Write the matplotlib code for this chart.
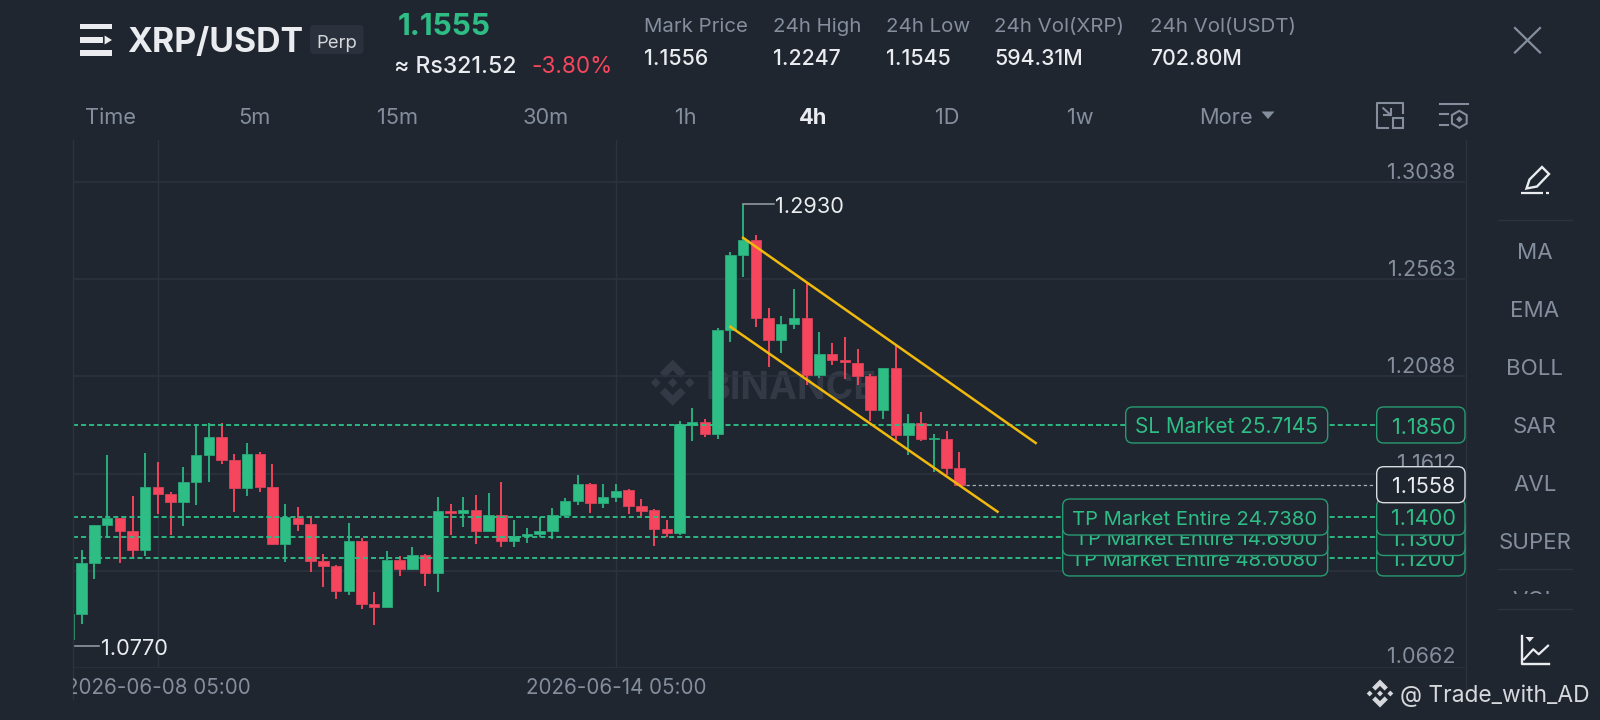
import matplotlib
matplotlib.use("Agg")
import matplotlib.pyplot as plt
from matplotlib.patches import FancyBboxPatch, Polygon, Rectangle, RegularPolygon
from matplotlib.transforms import Bbox, TransformedBbox

plt.rcParams['font.family'] = ['Inter', 'DejaVu Sans']
plt.rcParams['lines.scale_dashes'] = False

# candles, 4h, index 6 = 2026-06-08 05:00, index 42 = 2026-06-14 05:00
FIRST_INDEX = -1
OPENS = [1.0804, 1.0928, 1.1177, 1.1363, 1.1395, 1.1334, 1.1241, 1.1549, 1.1513, 1.1472,
         1.1573, 1.1703, 1.1793, 1.1677, 1.1542, 1.1707, 1.1549, 1.1270, 1.1395, 1.1368,
         1.1187, 1.1161, 1.1039, 1.1281, 1.0973, 1.0962, 1.1190, 1.1146, 1.1215, 1.1127,
         1.1428, 1.1421, 1.1436, 1.1330, 1.1408, 1.1281, 1.1307, 1.1319, 1.1330, 1.1408,
         1.1479, 1.1560, 1.1469, 1.1500, 1.1531, 1.1456, 1.1433, 1.1342, 1.1324, 1.1850,
         1.1863, 1.1808, 1.2314, 1.2679, 1.2753, 1.2373, 1.2267, 1.2345, 1.2373, 1.2094,
         1.2197, 1.2166, 1.2155, 1.2090, 1.1925, 1.2127, 1.1801, 1.1858, 1.1782, 1.1782,
         1.1640]
HIGHS = [1.0926, 1.1239, 1.1363, 1.1705, 1.1395, 1.1503, 1.1711, 1.1671, 1.1521, 1.1646,
         1.1850, 1.1861, 1.1858, 1.1707, 1.1764, 1.1720, 1.1658, 1.1465, 1.1451, 1.1405,
         1.1218, 1.1164, 1.1369, 1.1296, 1.1032, 1.1236, 1.1210, 1.1255, 1.1218, 1.1496,
         1.1462, 1.1496, 1.1506, 1.1516, 1.1571, 1.1386, 1.1345, 1.1402, 1.1443, 1.1492,
         1.1606, 1.1565, 1.1562, 1.1562, 1.1537, 1.1488, 1.1439, 1.1386, 1.1871, 1.1932,
         1.1879, 1.2324, 1.2696, 1.2930, 1.2777, 1.2420, 1.2381, 1.2515, 1.2546, 1.2303,
         1.2252, 1.2278, 1.2221, 1.2099, 1.2130, 1.2241, 1.1905, 1.1915, 1.1808, 1.1819,
         1.1720]
LOWS = [1.0770, 1.0877, 1.1096, 1.1296, 1.1177, 1.1203, 1.1210, 1.1415, 1.1312, 1.1356,
        1.1457, 1.1573, 1.1658, 1.1426, 1.1503, 1.1521, 1.1263, 1.1182, 1.1334, 1.1133,
        1.1060, 1.1001, 1.1017, 1.0951, 1.0874, 1.0957, 1.1112, 1.1140, 1.1063, 1.1034,
        1.1314, 1.1353, 1.1270, 1.1330, 1.1254, 1.1255, 1.1275, 1.1301, 1.1291, 1.1399,
        1.1461, 1.1421, 1.1443, 1.1475, 1.1417, 1.1405, 1.1260, 1.1304, 1.1311, 1.1773,
        1.1793, 1.1783, 1.2256, 1.2575, 1.2327, 1.2135, 1.2200, 1.2321, 1.2046, 1.2081,
        1.2145, 1.2077, 1.2046, 1.1870, 1.1879, 1.1777, 1.1705, 1.1773, 1.1622, 1.1606,
        1.1558]
CLOSES = [1.0926, 1.1177, 1.1363, 1.1394, 1.1334, 1.1241, 1.1549, 1.1513, 1.1474, 1.1571,
          1.1703, 1.1793, 1.1677, 1.1542, 1.1707, 1.1547, 1.1270, 1.1402, 1.1368, 1.1187,
          1.1162, 1.1039, 1.1281, 1.0975, 1.0962, 1.1192, 1.1146, 1.1215, 1.1127, 1.1428,
          1.1420, 1.1436, 1.1330, 1.1408, 1.1281, 1.1307, 1.1317, 1.1330, 1.1408, 1.1477,
          1.1560, 1.1469, 1.1498, 1.1529, 1.1456, 1.1431, 1.1343, 1.1324, 1.1853, 1.1863,
          1.1808, 1.2314, 1.2679, 1.2753, 1.2375, 1.2267, 1.2345, 1.2373, 1.2094, 1.2197,
          1.2166, 1.2158, 1.2090, 1.1925, 1.2127, 1.1801, 1.1858, 1.1782, 1.1788, 1.1642,
          1.1558]

PRICE_TICKS = [1.3038, 1.2563, 1.2088, 1.1612, 1.1137, 1.0662]
DATE_TICKS = [6, 42]
DATE_LABELS = ["2026-06-08 05:00", "2026-06-14 05:00"]

SL_LABEL = "SL Market 25.7145"
SL_PRICE = 1.1850
TP_LABELS = ["TP Market Entire 48.6080", "TP Market Entire 14.6900", "TP Market Entire 24.7380"]
TP_PRICES = [1.1200, 1.1300, 1.1400]
LAST_PRICE = 1.1558

PEAK = (52, 1.2930)
TROUGH = (-1, 1.0770)
CHANNEL_UPPER = ([52, 75], [1.2765, 1.1762])
CHANNEL_LOWER = ([51, 72], [1.2330, 1.1426])

STAT_NAMES = ["Mark Price", "24h High", "24h Low", "24h Vol(XRP)", "24h Vol(USDT)"]
STAT_VALUES = ["1.1556", "1.2247", "1.1545", "594.31M", "702.80M"]
INTERVALS = ["Time", "5m", "15m", "30m", "1h", "4h", "1D", "1w", "More"]
INDICATORS = ["MA", "EMA", "BOLL", "SAR", "AVL", "SUPER"]

BG = '#1f2630'
GREEN = '#2ebd85'
RED = '#f6465d'
GRAY = '#848e9c'
WHITE = '#eaecef'
GRID = '#2d333e'
YELLOW = '#f0b90b'
BOX_GREEN = '#279a70'

fig = plt.figure(figsize=(16, 7.2), dpi=100, facecolor=BG)

# chart area in pixels: x 72.5-1465, y 140-668
ax = fig.add_axes([72.5 / 1600, 1 - 668 / 720, (1465 - 72.5) / 1600, (668 - 140) / 720])
ax.set_facecolor(BG)
ax.set_xlim(-0.72, 108.75)
ax.set_ylim(1.0662, 1.3243)
for s in ax.spines.values():
    s.set_visible(False)
ax.set_xticks([])
ax.set_yticks([])

# overlay in pixel coords for the app chrome
ui = fig.add_axes([0, 0, 1, 1], zorder=5)
ui.set_xlim(0, 1600)
ui.set_ylim(720, 0)
ui.axis('off')
ui.patch.set_alpha(0)


def label(x, y, s, px=20, color=WHITE, ha='left', weight='normal', z=10, **kw):
    # y is the middle of the capitals
    return ui.text(x, y + 0.36 * px, s, fontsize=px * 0.72, color=color, ha=ha, va='baseline',
                   fontweight=weight, zorder=z, **kw)


def price_y(p):
    return 720 - ax.transData.transform((0, p))[1]


def box(x0, x1, yc, edge=BOX_GREEN, lw=1.0, z=8, h=36):
    ui.add_patch(FancyBboxPatch((x0 + 6, yc - h / 2 + 6), x1 - x0 - 12, h - 12,
                                boxstyle="round,pad=6,rounding_size=7", fc=BG, ec=edge, lw=lw, zorder=z))


def binance_logo(target, cx, cy, r, color, z=1):
    d = 0.21 * r
    for dx, dy in [(0, 0), (-0.74 * r, 0), (0.74 * r, 0)]:
        target.add_patch(Polygon([(cx + dx, cy + dy - d), (cx + dx + d, cy + dy), (cx + dx, cy + dy + d),
                                  (cx + dx - d, cy + dy)], fc=color, ec='none', zorder=z,
                                 transform=ui.transData))
    for sgn in (-1, 1):
        pts = [(0, r), (0.56 * r, 0.44 * r), (0.33 * r, 0.21 * r), (0, 0.54 * r),
               (-0.33 * r, 0.21 * r), (-0.56 * r, 0.44 * r)]
        target.add_patch(Polygon([(cx + a, cy + sgn * b) for a, b in pts], fc=color, ec='none', zorder=z,
                                 transform=ui.transData))


# watermark under the candles
binance_logo(ax, 672.7, 382.7, 23, '#333a45', z=0.5)
ax.text(706, 399, "BINANCE", fontsize=27, fontweight='bold', color='#333a45', va='baseline', zorder=0.5,
        transform=ui.transData)

# grid
for p in PRICE_TICKS:
    ax.axhline(p, color=GRID, lw=1.2, zorder=1)
for t in DATE_TICKS:
    ax.axvline(t, color=GRID, lw=1.0, zorder=1)

# candles
for i in range(len(OPENS)):
    idx = FIRST_INDEX + i
    up = CLOSES[i] >= OPENS[i]
    col = GREEN if up else RED
    ax.plot([idx, idx], [LOWS[i], HIGHS[i]], color='#2aa87a' if up else '#ea4359', lw=1.45,
            solid_capstyle='butt', zorder=3)
    ax.bar(idx, abs(CLOSES[i] - OPENS[i]), bottom=min(OPENS[i], CLOSES[i]), width=0.82, color=col,
           edgecolor='#2aa87a' if up else '#d9425a', lw=0.6, zorder=3.2)

# order lines
for p in [SL_PRICE] + TP_PRICES:
    ax.plot([0, 0.936], [p, p], transform=ax.get_yaxis_transform(), color=GREEN, lw=1.35,
            ls=(0, (3.6, 2.2)), zorder=4)
ax.plot([FIRST_INDEX + len(OPENS) - 0.5, FIRST_INDEX + len(OPENS) + 31.6], [LAST_PRICE, LAST_PRICE],
        color='#a9aeb6', lw=0.9, ls=(0, (2.4, 2.0)), zorder=4)

# channel
ax.plot(CHANNEL_UPPER[0], CHANNEL_UPPER[1], color=YELLOW, lw=1.8, zorder=5)
ax.plot(CHANNEL_LOWER[0], CHANNEL_LOWER[1], color=YELLOW, lw=1.8, zorder=5)

# high / low markers
ax.plot([PEAK[0], PEAK[0] + 2.4], [PEAK[1], PEAK[1]], color='#9aa0a8', lw=1.1, zorder=5)
ax.plot([TROUGH[0], TROUGH[0] + 2.35], [TROUGH[1], TROUGH[1]], color='#9aa0a8', lw=1.1, zorder=5)
ax.annotate("1.2930", PEAK, xytext=(32, -3), textcoords='offset pixels', fontsize=15.7, color=WHITE,
            va='center', zorder=6)
ax.annotate("1.0770", TROUGH, xytext=(32, -3), textcoords='offset pixels', fontsize=15.7, color=WHITE,
            va='center', zorder=6, annotation_clip=False)

# axis frame lines
ui.plot([72.5, 72.5], [140, 699], color=GRID, lw=1.0, zorder=1)
ui.plot([1465.5, 1465.5], [140, 699], color=GRID, lw=1.0, zorder=1)

# price labels
for p in PRICE_TICKS:
    label(1455.5, min(price_y(p) - 11, 655), "%.4f" % p, px=21.6, color=GRAY, ha='right', z=2)

# date labels
for t, s in zip(DATE_TICKS, DATE_LABELS):
    x = ax.transData.transform((t, 0))[0]
    txt = label(x, 687, s, px=20.6, color=GRAY, ha='center', z=2)
    txt.set_clip_box(TransformedBbox(Bbox([[73, 0], [1600, 720]]), ui.transData))
    txt.set_clip_on(True)

# order boxes, lower ones first so the upper ones sit on top
for i, (p, s) in enumerate(zip(TP_PRICES, TP_LABELS)):
    y = price_y(p)
    box(1062.7, 1327.7, y, z=6 + i * 0.1)
    label(1317.5, y + 0.5, s, px=20.2, color=GREEN, ha='right', z=6.05 + i * 0.1)
    box(1376.7, 1465, y, z=6 + i * 0.1)
    label(1455.5, y + 0.5, "%.4f" % p, px=21.6, color=GREEN, ha='right', z=6.05 + i * 0.1)
y = price_y(SL_PRICE)
box(1125.7, 1327.7, y)
label(1317.5, y + 0.8, SL_LABEL, px=20.7, color=GREEN, ha='right')
box(1376.7, 1465, y)
label(1455.5, y + 0.8, "%.4f" % SL_PRICE, px=21.6, color=GREEN, ha='right')
y = price_y(LAST_PRICE)
box(1376.7, 1465, y, edge='#d9dce0', lw=1.0, z=7)
label(1455.5, y + 0.5, "%.4f" % LAST_PRICE, px=21.6, color=WHITE, ha='right', z=7.1)

# header: menu icon and symbol
ui.add_patch(Rectangle((80, 24), 32, 5.3, fc=WHITE, ec='none'))
ui.add_patch(Rectangle((80, 37), 23, 6.3, fc=WHITE, ec='none'))
ui.add_patch(Polygon([(104.6, 35.5), (112, 40), (104.6, 44.5)], fc=WHITE, ec='none'))
ui.add_patch(Rectangle((80, 50), 32, 6, fc=WHITE, ec='none'))
label(127.5, 40, "XRP/USDT", px=33.8, weight='bold')
ui.add_patch(FancyBboxPatch((314, 29), 45.6, 21, boxstyle="round,pad=4,rounding_size=4", fc='#2b313c', ec='none'))
label(337, 41, "Perp", px=18.5, ha='center', color='#d5d8dc')
label(398, 24.5, "1.1555", px=30, color=GREEN, weight='bold')
label(394.5, 65, "≈ Rs321.52", px=23, weight='medium')
label(531, 65, "-3.80%", px=22.6, color=RED)

# header stats
for x, name, val in zip([644, 773, 886, 994.5, 1150.5], STAT_NAMES, STAT_VALUES):
    label(x, 25, name, px=20.5, color=GRAY)
    label(x, 57.5, val, px=21.3, weight='medium')

# interval row
for x, s in zip([110.5, 254.6, 397, 546, 686, 813.5, 947, 1080.5, 1225.5], INTERVALS):
    sel = s == "4h"
    label(x, 116.5, s, px=21.8, color=WHITE if sel else GRAY, ha='center', weight='bold' if sel else 'normal')
ui.add_patch(Polygon([(1261.5, 111.5), (1274.5, 111.5), (1268, 119)], fc=GRAY, ec='none'))

# close button
ui.plot([1515, 1540], [28, 52.5], color=GRAY, lw=1.6)
ui.plot([1515, 1540], [52.5, 28], color=GRAY, lw=1.6)

# toolbar icons next to the intervals
ui.plot([1402.7, 1402.7, 1377.3, 1377.3, 1388.3], [113, 103, 103, 127.7, 127.7], color=GRAY, lw=1.5)
ui.plot([1383.3, 1390.7], [108.3, 115], color=GRAY, lw=1.5)
ui.plot([1390.7, 1390.7, 1384], [108.5, 115, 115], color=GRAY, lw=1.5)
ui.add_patch(Rectangle((1393.3, 118.3), 9.4, 9.4, fc='none', ec=GRAY, lw=1.5))
ui.plot([1440, 1467.7], [104, 104], color=GRAY, lw=1.5)
ui.plot([1440, 1448.3], [114.3, 114.3], color=GRAY, lw=1.5)
ui.plot([1440, 1448.3], [125, 125], color=GRAY, lw=1.5)
ui.add_patch(RegularPolygon((1459.3, 119.3), 6, radius=8.5, fc='none', ec=GRAY, lw=1.5))
ui.add_patch(RegularPolygon((1459.3, 119.3), 4, radius=3.2, fc=GRAY, ec='none'))

# right panel
ui.add_patch(Polygon([(1526.5, 188.5), (1529.5, 179.5), (1542, 167), (1549, 174), (1537, 186.5)], closed=True,
                     fc='none', ec=WHITE, lw=1.7))
ui.plot([1521, 1543], [192.8, 192.8], color=WHITE, lw=1.6, solid_capstyle='butt')
ui.plot([1546, 1549], [192.8, 192.8], color=WHITE, lw=1.6, solid_capstyle='butt')
for y in [220, 569, 609]:
    ui.plot([1498, 1572], [y, y], color=GRID, lw=1.0)
for y, s in zip([251, 309, 367, 425, 483, 541], INDICATORS):
    label(1535, y, s, px=22.3, color=GRAY, ha='center')
cut = label(1535, 599.3, "VOL", px=22.3, color=GRAY, ha='center')
cut.set_clip_box(TransformedBbox(Bbox([[1490, 560], [1580, 593.5]]), ui.transData))
cut.set_clip_on(True)
ui.plot([1521.5, 1521.5, 1549], [636, 664, 664], color=WHITE, lw=1.7)
ui.add_patch(Polygon([(1525.5, 637), (1534, 637), (1529.7, 642)], fc=WHITE, ec='none'))
ui.plot([1524, 1533.3, 1538.7, 1548], [659.3, 649.3, 654.3, 645.7], color=WHITE, lw=1.6)

# footer credit
binance_logo(ui, 1380, 693.5, 14, '#d6d8dc', z=10)
label(1400, 694, "@ Trade_with_AD", px=22.8, color='#d6d8dc')

fig.savefig("out.png", facecolor=BG)
